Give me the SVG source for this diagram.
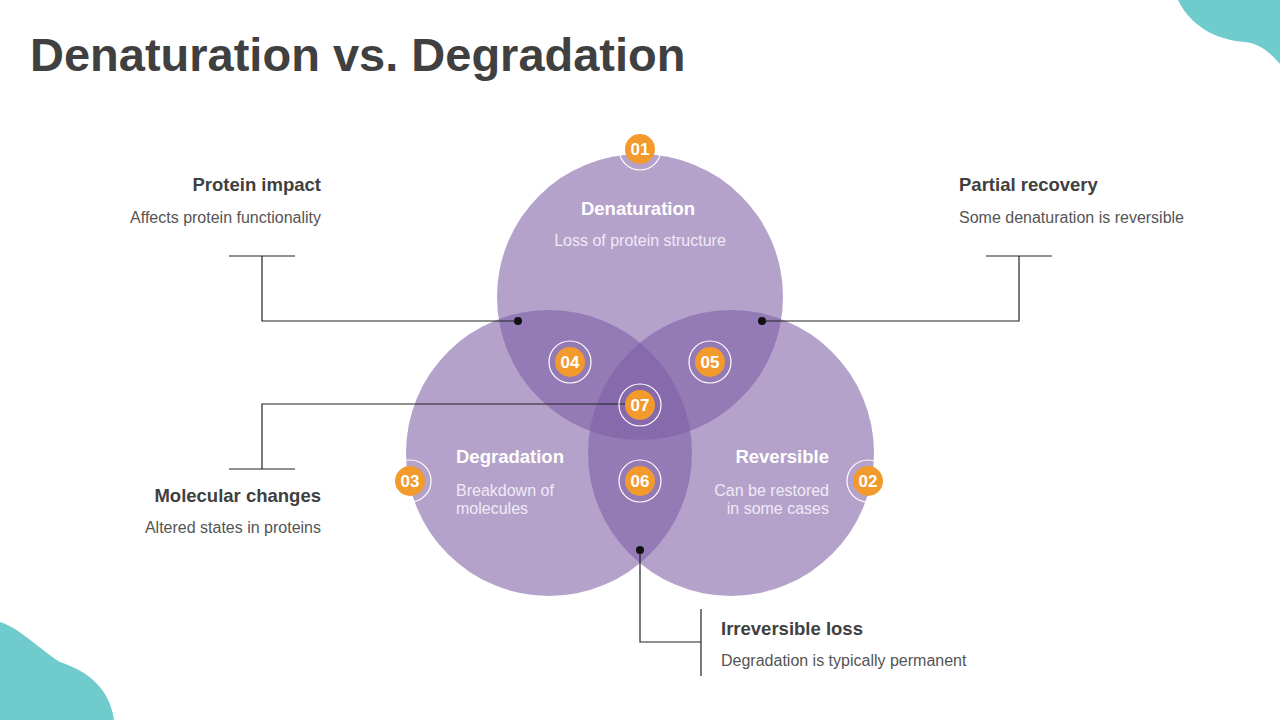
<svg xmlns="http://www.w3.org/2000/svg" width="1280" height="720" viewBox="0 0 1280 720">
<style>
text{font-family:"Liberation Sans",Arial,sans-serif}
.c{fill:#7d5ea6;fill-opacity:.58}
.t{font-size:47px;font-weight:bold;fill:#404040}
.h{font-size:18.5px;font-weight:bold;fill:#404040}
.d{font-size:16px;fill:#555}
.wh{font-size:18.5px;font-weight:bold;fill:#fff}
.wd{font-size:16px;fill:#f0eaf6}
.ring{fill:none;stroke:#fff;stroke-width:1.2}
.b{fill:#f29b2c}
.n{font-size:17px;font-weight:bold;fill:#fff;text-anchor:middle}
.ln{fill:none;stroke:#222;stroke-width:1.2}
</style>
<rect width="1280" height="720" fill="#fff"/>
<path d="M1178 0 C1190 25 1215 40 1245 42 C1262 44 1272 55 1280 64 L1280 0 Z" fill="#6fcbcc"/>
<path d="M0 622 C20 628 40 650 60 662 C90 672 110 690 114 720 L0 720 Z" fill="#6fcbcc"/>
<text class="t" x="30" y="71">Denaturation vs. Degradation</text>
<g id="circle-top"><circle class="c" cx="640" cy="297" r="143"/></g>
<g id="circle-left"><circle class="c" cx="549" cy="453" r="143"/></g>
<g id="circle-right"><circle class="c" cx="731" cy="453" r="143"/></g>
<g id="labels-inner">
<text class="wh" x="638" y="215" text-anchor="middle">Denaturation</text>
<text class="wd" x="640" y="246" text-anchor="middle">Loss of protein structure</text>
<text class="wh" x="456" y="463">Degradation</text>
<text class="wd" x="456" y="496">Breakdown of</text>
<text class="wd" x="456" y="514">molecules</text>
<text class="wh" x="829" y="463" text-anchor="end">Reversible</text>
<text class="wd" x="829" y="496" text-anchor="end">Can be restored</text>
<text class="wd" x="829" y="514" text-anchor="end">in some cases</text>
</g>
<g id="connectors">
<polyline class="ln" points="518,321 262,321 262,256"/>
<line class="ln" x1="229" y1="256" x2="295" y2="256"/>
<polyline class="ln" points="762,321 1019,321 1019,256"/>
<line class="ln" x1="986" y1="256" x2="1052" y2="256"/>
<polyline class="ln" points="640,404 262,404 262,469"/>
<line class="ln" x1="229" y1="469" x2="295" y2="469"/>
<polyline class="ln" points="640,550 640,642 701,642"/>
<line class="ln" x1="701" y1="609" x2="701" y2="676"/>
<circle cx="518" cy="321" r="4" fill="#111"/>
<circle cx="762" cy="321" r="4" fill="#111"/>
<circle cx="640" cy="550" r="4" fill="#111"/>
</g>
<g id="b01"><circle class="ring" cx="640" cy="149" r="21"/><circle class="b" cx="640" cy="149" r="15"/><text class="n" x="640" y="155">01</text></g>
<g id="b02"><circle class="ring" cx="868" cy="481" r="21"/><circle class="b" cx="868" cy="481" r="15"/><text class="n" x="868" y="487">02</text></g>
<g id="b03"><circle class="ring" cx="410" cy="481" r="21"/><circle class="b" cx="410" cy="481" r="15"/><text class="n" x="410" y="487">03</text></g>
<g id="b04"><circle class="ring" cx="570" cy="362" r="21"/><circle class="b" cx="570" cy="362" r="15"/><text class="n" x="570" y="368">04</text></g>
<g id="b05"><circle class="ring" cx="710" cy="362" r="21"/><circle class="b" cx="710" cy="362" r="15"/><text class="n" x="710" y="368">05</text></g>
<g id="b06"><circle class="ring" cx="640" cy="481" r="21"/><circle class="b" cx="640" cy="481" r="15"/><text class="n" x="640" y="487">06</text></g>
<g id="b07"><circle class="ring" cx="640" cy="405" r="21"/><circle class="b" cx="640" cy="405" r="15"/><text class="n" x="640" y="411">07</text></g>
<g id="note-protein"><text class="h" x="321" y="191" text-anchor="end">Protein impact</text><text class="d" x="321" y="223" text-anchor="end">Affects protein functionality</text></g>
<g id="note-partial"><text class="h" x="959" y="191">Partial recovery</text><text class="d" x="959" y="223">Some denaturation is reversible</text></g>
<g id="note-molecular"><text class="h" x="321" y="502" text-anchor="end">Molecular changes</text><text class="d" x="321" y="533" text-anchor="end">Altered states in proteins</text></g>
<g id="note-irrev"><text class="h" x="721" y="635">Irreversible loss</text><text class="d" x="721" y="666">Degradation is typically permanent</text></g>
</svg>
